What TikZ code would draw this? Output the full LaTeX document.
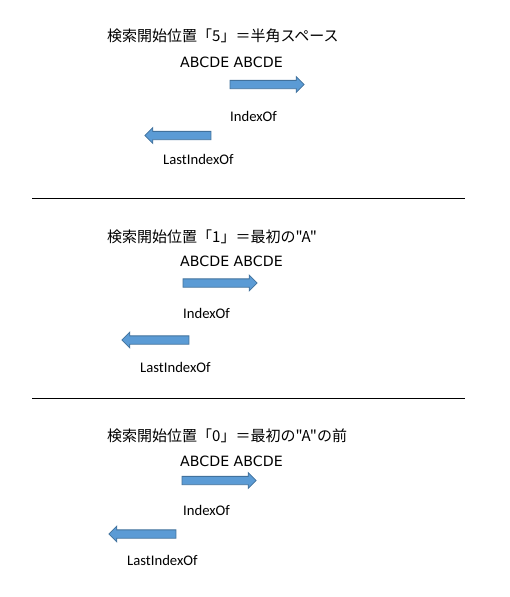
\documentclass[tikz,border=0pt]{standalone}
\usepackage{fontspec}
\usetikzlibrary{shapes.arrows}
\newfontfamily\jpfont{Noto Sans CJK JP}
\newfontfamily\calfont{Carlito}
\newfontfamily\abcfont{DejaVu Sans}
\definecolor{arrfill}{HTML}{5B9BD5}
\definecolor{arrdraw}{HTML}{41719C}
\begin{document}
\begin{tikzpicture}[x=1pt,y=-1pt,
  titletxt/.style={anchor=base west,inner sep=0,font=\jpfont\fontsize{15}{17}\selectfont},
  abctxt/.style={anchor=base west,inner sep=0,font=\abcfont\fontsize{14.2}{17}\selectfont},
  methtxt/.style={anchor=base west,inner sep=0,font=\calfont\fontsize{14.67}{17}\selectfont},
  blockarrow/.style={shape=single arrow,single arrow head extend=3.75pt,inner sep=0pt,
    inner ysep=3.75pt,minimum height=#1,fill=arrfill,draw=arrdraw,line width=0.8pt},
  sepline/.style={line width=1pt,black}]
\useasboundingbox (0,0) rectangle (509,597);
% section 1
\node[titletxt] (t1) at (107,41) {検索開始位置「5」＝半角スペース};
\node[abctxt] (s1) at (180,67) {ABCDE ABCDE};
\node[blockarrow=74pt] (r1) at (265,84.5) {};
\node[methtxt] (i1) at (230,121.3) {IndexOf};
\node[blockarrow=66pt,shape border rotate=180] (l1) at (180,135.5) {};
\node[methtxt] (li1) at (163,164.3) {LastIndexOf};
\draw[sepline] (32,198.5) -- (465,198.5);
% section 2
\node[titletxt] (t2) at (107,242) {検索開始位置「1」＝最初の"A"};
\node[abctxt] (s2) at (180,266) {ABCDE ABCDE};
\node[blockarrow=74pt] (r2) at (218,283) {};
\node[methtxt] (i2) at (183,318) {IndexOf};
\node[blockarrow=67pt,shape border rotate=180] (l2) at (157.5,340) {};
\node[methtxt] (li2) at (140,372) {LastIndexOf};
\draw[sepline] (32,398.5) -- (465,398.5);
% section 3
\node[titletxt] (t3) at (107,441.5) {検索開始位置「0」＝最初の"A"の前};
\node[abctxt] (s3) at (180,466) {ABCDE ABCDE};
\node[blockarrow=74pt] (r3) at (217,480.5) {};
\node[methtxt] (i3) at (183,515) {IndexOf};
\node[blockarrow=67pt,shape border rotate=180] (l3) at (144.5,534) {};
\node[methtxt] (li3) at (127,565) {LastIndexOf};
\end{tikzpicture}
\end{document}
